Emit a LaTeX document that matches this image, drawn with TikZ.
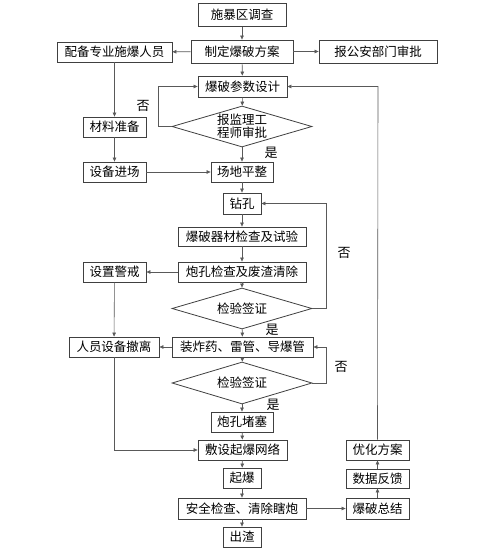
\documentclass[tikz,border=0pt]{standalone}
\usepackage{fontspec}
\setmainfont{Noto Sans CJK SC}
\usetikzlibrary{shapes.geometric,arrows.meta}
\begin{document}
\begin{tikzpicture}[x=1pt,y=-1pt,
  box/.style={draw=black!75,line width=0.8pt,rectangle,inner sep=0pt,minimum height=20pt,font=\fontsize{12.5}{13}\selectfont,anchor=center},
  dia/.style={draw=black!75,line width=0.8pt,diamond,inner sep=0pt,shape aspect=3.4,minimum width=140pt,minimum height=41pt,font=\fontsize{12.5}{13}\selectfont,align=center},
  conn/.style={draw=black!65,line width=0.6pt,-{Triangle[length=4pt,width=3.5pt]}},
  lab/.style={font=\fontsize{13}{13}\selectfont,inner sep=0pt}]
\useasboundingbox (0,0) rectangle (487,550);
\fill[white] (0,0) rectangle (487,550);
\node[box,minimum width=88pt,minimum height=23pt] (a) at (242,15) {施暴区调查};
\node[box,minimum width=102pt,minimum height=23pt] (b) at (242,51.5) {制定爆破方案};
\node[box,minimum width=115pt] (c) at (114.5,52) {配备专业施爆人员};
\node[box,minimum width=118pt,minimum height=23pt] (d) at (378,51.5) {报公安部门审批};
\node[box,minimum width=89pt,minimum height=21pt] (e) at (242.5,86.5) {爆破参数设计};
\node[dia] (f) at (242,126.5) {报监理工\\程师审批};
\node[box,minimum width=63pt] (g) at (114.5,127) {材料准备};
\node[box,minimum width=63pt] (h) at (114.5,172) {设备进场};
\node[box,minimum width=62pt] (i) at (242,172) {场地平整};
\node[box,minimum width=38pt,minimum height=21pt] (j) at (242,203.5) {钻孔};
\node[box,minimum width=128pt,minimum height=19pt] (k) at (242,236.5) {爆破器材检查及试验};
\node[box,minimum width=128pt] (l) at (242,272) {炮孔检查及废渣清除};
\node[box,minimum width=63pt] (m) at (114.5,272) {设置警戒};
\node[dia] (n) at (242,308.5) {检验签证};
\node[box,minimum width=141pt] (o) at (242.5,347) {装炸药、雷管、导爆管};
\node[box,minimum width=90pt] (p) at (114,347) {人员设备撤离};
\node[dia,minimum height=42pt] (q) at (242,383) {检验签证};
\node[box,minimum width=62pt] (r) at (242,422) {炮孔堵塞};
\node[box,minimum width=89pt] (s) at (242.5,450) {敷设起爆网络};
\node[box,minimum width=38pt] (t) at (242,478) {起爆};
\node[box,minimum width=128pt,minimum height=21pt] (u) at (242,508.5) {安全检查、清除瞎炮};
\node[box,minimum width=38pt] (v) at (242,537) {出渣};
\node[box,minimum width=63pt,minimum height=21pt] (w) at (377.5,508.5) {爆破总结};
\node[box,minimum width=63pt,minimum height=19pt] (x) at (377.5,478.5) {数据反馈};
\node[box,minimum width=63pt] (y) at (377.5,450) {优化方案};
\node[lab] (l1) at (143,106) {否};
\node[lab] (l2) at (271,153) {是};
\node[lab] (l3) at (344,253) {否};
\node[lab] (l4) at (272,330) {是};
\node[lab] (l5) at (341,367) {否};
\node[lab] (l6) at (273,405) {是};
\coordinate (fl) at (158,126.5);
\coordinate (nr) at (326,308.5);
\coordinate (qr) at (326,383);
\coordinate (pb) at (114,450);
\coordinate (yt) at (378,86.5);
\draw[conn] (a) -- (b);
\draw[conn] (b) -- (c);
\draw[conn] (b) -- (d);
\draw[conn] (b) -- (e);
\draw[conn] (e) -- (f);
\draw[conn] (f.west) -- (fl) |- (e.west);
\draw[conn] (c.south) -- (g.north);
\draw[conn] (g) -- (h);
\draw[conn] (h) -- (i);
\draw[conn] (f) -- (i);
\draw[conn] (i) -- (j);
\draw[conn] (j) -- (k);
\draw[conn] (k) -- (l);
\draw[conn] (l) -- (m);
\draw[conn] (l) -- (n);
\draw[conn] (n.east) -- (nr) |- (j.east);
\draw[conn] (n) -- (o);
\draw[conn] (m) -- (p);
\draw[conn] (o) -- (p);
\draw[conn] (o) -- (q);
\draw[conn] (q.east) -- (qr) |- (o.east);
\draw[conn] (q) -- (r);
\draw[conn] (r) -- (s);
\draw[conn] (p.south) -- (pb) -- (s.west);
\draw[conn] (s) -- (t);
\draw[conn] (t) -- (u);
\draw[conn] (u) -- (v);
\draw[conn] (u) -- (w);
\draw[conn] (w) -- (x);
\draw[conn] (x) -- (y);
\draw[conn] (y.north) -- (yt) -- (e.east);
\end{tikzpicture}
\end{document}
